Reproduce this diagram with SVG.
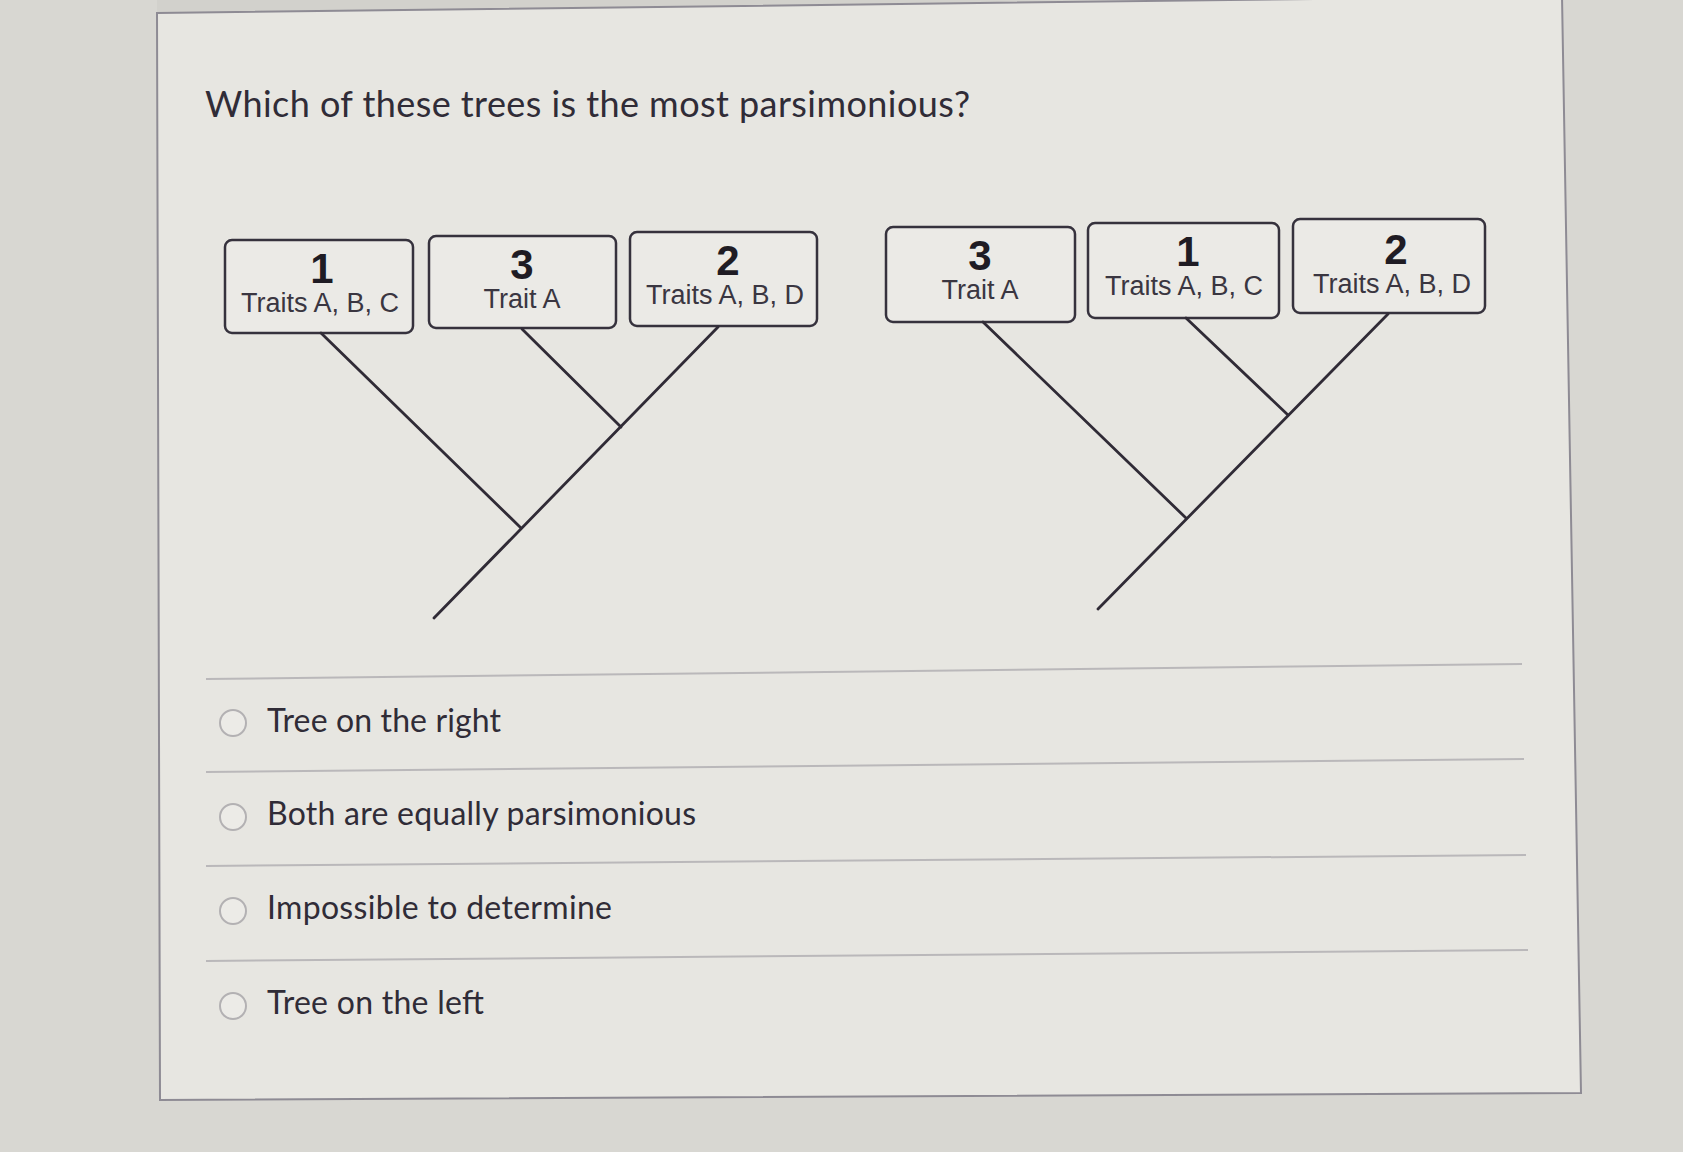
<svg xmlns="http://www.w3.org/2000/svg" width="1683" height="1152" viewBox="0 0 1683 1152">
  <defs>
    <style>
      .bg { fill: #d8d7d2; }
      .panel { fill: #e7e6e1; stroke: #8e8b94; stroke-width: 2; }
      .title { font-family: Lato, "Liberation Sans", sans-serif; font-size: 36px; fill: #302c37; }
      .opt { font-family: Lato, "Liberation Sans", sans-serif; font-size: 32px; fill: #302c37; }
      .sep { stroke: #bab8ba; stroke-width: 2; fill: none; }
      .radio { fill: #ecebe7; stroke: #b3b1b3; stroke-width: 2; }
      .box { fill: #ebeae6; stroke: #36323d; stroke-width: 2.5; }
      .num { font-family: "Liberation Sans", Arial, sans-serif; font-size: 42px; font-weight: bold; fill: #1f1c24; text-anchor: middle; }
      .trait { font-family: "Liberation Sans", Arial, sans-serif; font-size: 27px; fill: #3a3641; text-anchor: middle; }
      .edge { stroke: #302b36; stroke-width: 2.8; stroke-linecap: round; fill: none; }
    </style>
  </defs>

  <rect class="bg" x="0" y="0" width="1683" height="1152"/>
  <polygon points="157,13 1562,-4 1562,-10 157,-10" fill="#d2d1cc"/>
  <polygon class="panel" points="157,13 1562,-4 1581,1093 160,1100"/>

  <text class="title" x="205" y="117" textLength="765">Which of these trees is the most parsimonious?</text>

  <g id="left-tree">
    <g id="L-node-1">
      <rect class="box" x="225" y="240" width="188" height="93" rx="7"/>
      <text class="num" x="322" y="283">1</text>
      <text class="trait" x="320" y="312">Traits A, B, C</text>
    </g>
    <g id="L-node-3">
      <rect class="box" x="429" y="236" width="187" height="92" rx="7"/>
      <text class="num" x="522" y="279">3</text>
      <text class="trait" x="522" y="308">Trait A</text>
    </g>
    <g id="L-node-2">
      <rect class="box" x="630" y="232" width="187" height="94" rx="7"/>
      <text class="num" x="728" y="275">2</text>
      <text class="trait" x="725" y="304">Traits A, B, D</text>
    </g>
  </g>

  <g id="right-tree">
    <g id="R-node-3">
      <rect class="box" x="886" y="227" width="189" height="95" rx="7"/>
      <text class="num" x="980" y="270">3</text>
      <text class="trait" x="980" y="299">Trait A</text>
    </g>
    <g id="R-node-1">
      <rect class="box" x="1088" y="223" width="191" height="95" rx="7"/>
      <text class="num" x="1188" y="266">1</text>
      <text class="trait" x="1184" y="295">Traits A, B, C</text>
    </g>
    <g id="R-node-2">
      <rect class="box" x="1293" y="219" width="192" height="94" rx="7"/>
      <text class="num" x="1396" y="264">2</text>
      <text class="trait" x="1392" y="293">Traits A, B, D</text>
    </g>
  </g>

  <g id="connectors">
    <line class="edge" x1="321" y1="333" x2="521" y2="528"/>
    <line class="edge" x1="522" y1="329" x2="621" y2="427"/>
    <line class="edge" x1="718" y1="327" x2="434" y2="618"/>
    <line class="edge" x1="983" y1="322" x2="1186" y2="518"/>
    <line class="edge" x1="1186" y1="318" x2="1288" y2="415"/>
    <line class="edge" x1="1388" y1="314" x2="1098" y2="609"/>
  </g>

  <g id="separators">
    <line class="sep" x1="206" y1="679" x2="1522" y2="664"/>
    <line class="sep" x1="206" y1="772" x2="1524" y2="759"/>
    <line class="sep" x1="206" y1="866" x2="1526" y2="855"/>
    <line class="sep" x1="206" y1="961" x2="1528" y2="950"/>
  </g>

  <g id="option-1">
    <circle class="radio" cx="233" cy="723" r="13"/>
    <text class="opt" x="267" y="732" textLength="234">Tree on the right</text>
  </g>
  <g id="option-2">
    <circle class="radio" cx="233" cy="817" r="13"/>
    <text class="opt" x="267" y="825" textLength="429">Both are equally parsimonious</text>
  </g>
  <g id="option-3">
    <circle class="radio" cx="233" cy="911" r="13"/>
    <text class="opt" x="267" y="919" textLength="345">Impossible to determine</text>
  </g>
  <g id="option-4">
    <circle class="radio" cx="233" cy="1006" r="13"/>
    <text class="opt" x="267" y="1014" textLength="217">Tree on the left</text>
  </g>
</svg>
